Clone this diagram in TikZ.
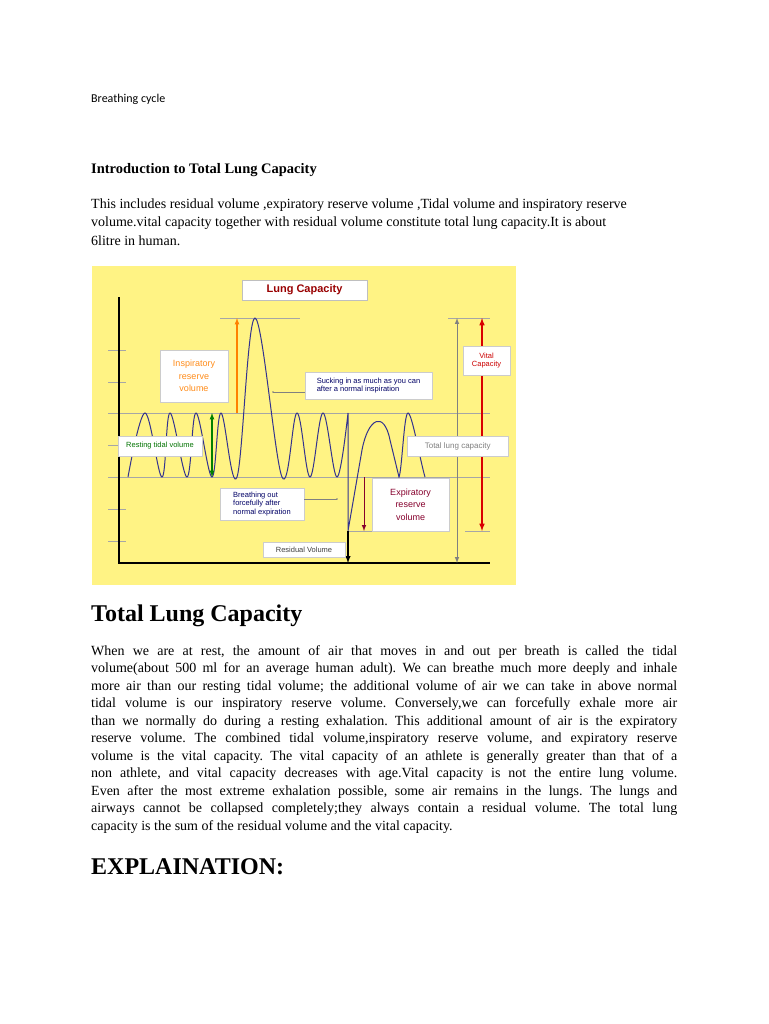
\documentclass[tikz,border=0pt]{standalone}
\usepackage{fontspec}
\setmainfont{Liberation Serif}
\newfontfamily\labfont{Liberation Sans}
\newfontfamily\calfont{Carlito}
\newcommand{\jl}[1]{\hbox to 586pt{#1}}
\begin{document}
\frenchspacing
\begin{tikzpicture}[x=1pt,y=-1pt,
  lbox/.style={draw=gray!40,fill=white,inner sep=1pt,font=\labfont\fontsize{7.5}{8.5}\selectfont,align=center},
  txt/.style={anchor=west,inner sep=0pt,font=\fontsize{14}{16}\selectfont},
  gline/.style={draw=gray!70,line width=0.6pt},
  wave/.style={draw=blue!45!black!80,line width=1pt}]
\useasboundingbox (0,0) rectangle (768,1024);
\node[txt,font=\calfont\fontsize{12}{14}\selectfont] (t0) at (91,99) {Breathing cycle};
\node[txt,font=\bfseries\fontsize{14.5}{16}\selectfont] (t1) at (91,170) {Introduction to Total Lung Capacity};
\node[txt] (p1) at (91,205) {This includes residual volume ,expiratory reserve volume ,Tidal volume and inspiratory reserve};
\node[txt] (p2) at (91,223) {volume.vital capacity together with residual volume constitute total lung capacity.It is about};
\node[txt] (p3) at (91,241) {6litre in human.};
% diagram
\fill[yellow!45!white!95!orange] (92,266) rectangle (516,585);
\node[draw=gray!50,fill=white,minimum width=125pt,minimum height=20pt,inner sep=0pt,font=\labfont\bfseries\fontsize{11}{12}\selectfont,text=red!60!black] (title) at (304.5,290) {Lung Capacity};
\draw[gline] (119,413) -- (490,413);
\draw[gline] (119,477) -- (490,477);
\draw[gline] (220,318) -- (300,318);
\draw[gline] (448,318) -- (490,318);
\draw[gline] (348,531) -- (372,531);
\draw[gline] (465,531) -- (490,531);
\foreach \y in {350,382,413,445,477,509,541} \draw[gray!70,line width=0.6pt] (108,\y) -- (126,\y);
\coordinate (o) at (119,563);
\coordinate (yt) at (119,297);
\coordinate (xe) at (490,563);
\draw[line width=1.8pt] (yt) -- (o) -- (xe);
\draw[wave] plot[smooth,tension=0.6] coordinates {(128,477) (145,413) (162,477) (170,413) (187,477) (196,413) (212,477) (221,413) (237,477) (255,318) (282,477) (297,413) (310,477) (323,413) (337,477) (348,413)} -- (348,531)
  -- (362,450) .. controls (368,418) and (384,410) .. (390,440) -- (399,477) .. controls (402,470) and (404,413) .. (408,413) .. controls (412,413) and (420,460) .. (425,477);
% arrows
\draw[orange,line width=1.2pt,-latex] (237,413) -- (237,318);
\draw[green!50!black,line width=1.2pt,latex-latex] (212,413) -- (212,477);
\draw[purple!70!black,line width=1pt,-latex] (364,477) -- (364,531);
\draw[black,line width=1.4pt,-latex] (348,531) -- (348,563);
\draw[gray,line width=1pt,latex-latex] (457,318) -- (457,563);
\draw[red!85!black,line width=1.5pt,latex-latex] (482,318) -- (482,531);
% labels
\node[lbox,minimum width=68pt,minimum height=52pt,text=orange!90!white,font=\labfont\fontsize{9}{12.5}\selectfont] (irv) at (194,376) {Inspiratory\\reserve\\volume};
\node[lbox,minimum width=84pt,minimum height=20pt,text=green!45!black] (rtv) at (160,446) {Resting tidal volume};
\node[lbox,minimum width=127pt,minimum height=27pt,text=blue!40!black,align=left] (suck) at (368.5,385.5) {Sucking in as much as you can\\after a normal inspiration};
\coordinate (sp) at (273,392);
\draw[gray,line width=0.5pt] (suck.west |- sp) -- (sp);
\fill[gray] (sp) circle (0.8);
\node[lbox,minimum width=84pt,minimum height=32pt,text=blue!40!black,align=left] (bo) at (262,504) {Breathing out\\forcefully after\\normal expiration};
\coordinate (bp) at (337,499);
\draw[gray,line width=0.5pt] (bo.east |- bp) -- (bp);
\fill[gray] (bp) circle (0.8);
\node[lbox,minimum width=77pt,minimum height=53pt,text=purple!70!black,font=\labfont\fontsize{9}{12.5}\selectfont] (erv) at (410.5,504.5) {Expiratory\\reserve\\volume};
\node[lbox,minimum width=82pt,minimum height=15pt,text=black!75] (rv) at (304,549.5) {Residual Volume};
\node[lbox,minimum width=101pt,minimum height=20pt,text=gray,align=left,anchor=west,inner sep=3pt,font=\labfont\fontsize{8}{9}\selectfont] (tlc) at (407,446) {Total lung capacity};
\node[lbox,minimum width=47pt,minimum height=29pt,text=red!80!black] (vc) at (486.5,360.5) {Vital\\Capacity};
% text 2
\node[txt,font=\bfseries\fontsize{24}{28}\selectfont] (h2) at (91,616) {Total Lung Capacity};
\node[txt] (q1) at (91,652) {\jl{When we are at rest, the amount of air that moves in and out per breath is called the tidal}};
\node[txt] (q2) at (91,669.5) {\jl{volume(about 500 ml for an average human adult). We can breathe much more deeply and inhale}};
\node[txt] (q3) at (91,687) {\jl{more air than our resting tidal volume; the additional volume of air we can take in above normal}};
\node[txt] (q4) at (91,704.5) {\jl{tidal volume is our inspiratory reserve volume. Conversely,we can forcefully exhale more air}};
\node[txt] (q5) at (91,722) {\jl{than we normally do during a resting exhalation. This additional amount of air is the expiratory}};
\node[txt] (q6) at (91,739.5) {\jl{reserve volume. The combined tidal volume,inspiratory reserve volume, and expiratory reserve}};
\node[txt] (q7) at (91,757) {\jl{volume is the vital capacity. The vital capacity of an athlete is generally greater than that of a}};
\node[txt] (q8) at (91,774.5) {\jl{non athlete, and vital capacity decreases with age.Vital capacity is not the entire lung volume.}};
\node[txt] (q9) at (91,792) {\jl{Even after the most extreme exhalation possible, some air remains in the lungs. The lungs and}};
\node[txt] (q10) at (91,809.5) {\jl{airways cannot be collapsed completely;they always contain a residual volume. The total lung}};
\node[txt] (q11) at (91,827) {capacity is the sum of the residual volume and the vital capacity.};
\node[txt,font=\bfseries\fontsize{24}{28}\selectfont] (h3) at (91,867) {EXPLAINATION:};
\end{tikzpicture}
\end{document}
